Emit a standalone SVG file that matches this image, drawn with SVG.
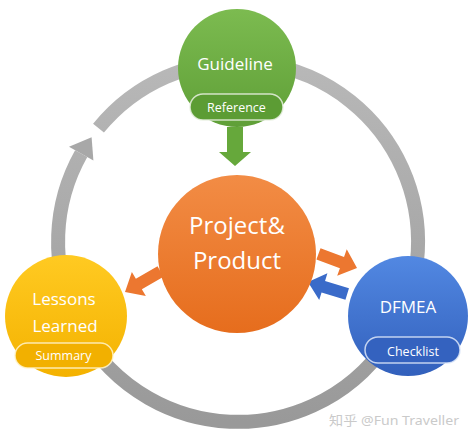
<svg xmlns="http://www.w3.org/2000/svg" width="474" height="440" viewBox="0 0 474 440">
  <defs>
    <linearGradient id="gRing" x1="0" y1="0" x2="0" y2="1">
      <stop offset="0" stop-color="#b8b8b8"/>
      <stop offset="1" stop-color="#999999"/>
    </linearGradient>
    <linearGradient id="gGreen" x1="0" y1="0" x2="0" y2="1">
      <stop offset="0" stop-color="#7cbb50"/>
      <stop offset="1" stop-color="#5f9f37"/>
    </linearGradient>
    <linearGradient id="gOrange" x1="0" y1="0" x2="0" y2="1">
      <stop offset="0" stop-color="#f28c45"/>
      <stop offset="1" stop-color="#e66d1d"/>
    </linearGradient>
    <linearGradient id="gYellow" x1="0" y1="0" x2="0" y2="1">
      <stop offset="0" stop-color="#ffca22"/>
      <stop offset="1" stop-color="#f4b200"/>
    </linearGradient>
    <linearGradient id="gBlue" x1="0" y1="0" x2="0" y2="1">
      <stop offset="0" stop-color="#5288e2"/>
      <stop offset="1" stop-color="#3260bc"/>
    </linearGradient>
    <polygon id="arrowShape" points="0,0 -16,-14 -16,-6 -41,-6 -41,6 -16,6 -16,14"/>
  </defs>
  <style>
    .lbl { font-family: "Open Sans", "Noto Sans", sans-serif; fill: #ffffff; text-anchor: middle; }
    .big { font-size: 17px; }
    .huge { font-size: 24px; }
    .small { font-size: 12.5px; }
    .pill { stroke: #e8f0e0; stroke-width: 1.5; stroke-opacity: 0.85; }
    .wm { font-family: "Noto Sans", "Noto Sans CJK SC", sans-serif; font-size: 13px; fill: #cacaca; }
  </style>
  <rect width="474" height="440" fill="#ffffff"/>

  <g id="connectors">
    <path d="M 98.5 128.2 A 180 180 0 1 1 81.2 153.6" fill="none" stroke="url(#gRing)" stroke-width="14"/>
    <polygon points="91.6,137.2 69.0,146.8 93.4,160.5" fill="#a8a8a8"/>
    <polygon points="227,127 243,127 243,152 251,152 235,166 219,152 227,152" fill="#66a83b"/>
    <use href="#arrowShape" transform="translate(125 292) rotate(150)" fill="#ec7730"/>
    <use href="#arrowShape" transform="translate(357 268) rotate(20)" fill="#ec7730"/>
    <use href="#arrowShape" transform="translate(308 282) rotate(197)" fill="#3a6bc9"/>
  </g>

  <g id="node-project">
    <circle cx="237" cy="254" r="79" fill="url(#gOrange)"/>
    <text class="lbl huge" x="237" y="234">Project&amp;</text>
    <text class="lbl huge" x="237" y="269">Product</text>
  </g>

  <g id="node-guideline">
    <circle cx="237" cy="68" r="59" fill="url(#gGreen)"/>
    <text class="lbl big" x="235" y="70">Guideline</text>
    <rect class="pill" x="190" y="94" width="93" height="26" rx="13" fill="#5c9c34"/>
    <text class="lbl small" x="236.5" y="112">Reference</text>
  </g>

  <g id="node-lessons">
    <circle cx="66" cy="316" r="61" fill="url(#gYellow)"/>
    <text class="lbl big" x="64" y="305">Lessons</text>
    <text class="lbl big" x="65" y="332">Learned</text>
    <rect class="pill" x="15" y="343" width="98" height="25" rx="12.5" fill="#f2b000" style="stroke:#fff4cc"/>
    <text class="lbl small" x="63.5" y="360">Summary</text>
  </g>

  <g id="node-dfmea">
    <circle cx="408" cy="316" r="60" fill="url(#gBlue)"/>
    <text class="lbl big" x="408" y="313">DFMEA</text>
    <rect class="pill" x="365" y="337" width="95" height="26" rx="13" fill="#3462bf" style="stroke:#dce6f8"/>
    <text class="lbl small" x="413" y="356">Checklist</text>
  </g>

  <text class="wm" x="329" y="425" textLength="130" lengthAdjust="spacingAndGlyphs">知乎 @Fun Traveller</text>
</svg>
